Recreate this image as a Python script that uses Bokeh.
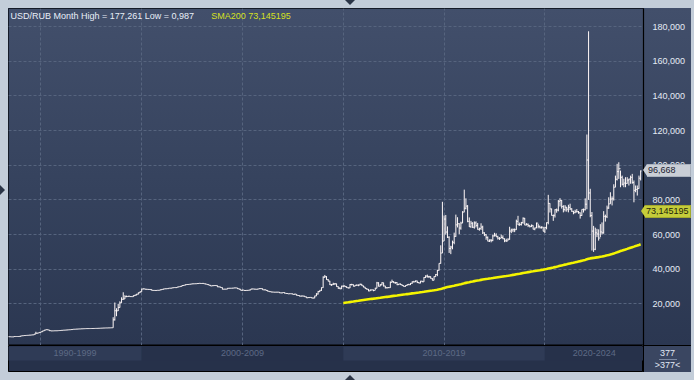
import numpy as np
from bokeh.plotting import figure
from bokeh.models import Range1d, FixedTicker, Label, Div, ColumnDataSource
from bokeh.layouts import column, row
from bokeh.embed import file_html
from bokeh.resources import INLINE
from bokeh.core.properties import value

# ---------------- data (USD/RUB monthly bars, Jun 1993 .. Oct 2024) ----------------
symbol = "USD/RUB"
start_year, start_month = 1993, 6
first_open = 1.08

closes = [
    1.060, 0.990, 0.992, 1.169, 1.184, 1.194, 1.247,                         # 1993 Jun-Dec
    1.542, 1.669, 1.753, 1.820, 1.892, 1.989, 2.060, 2.153, 2.596, 3.055, 3.232, 3.550,  # 1994
    3.947, 4.437, 4.897, 5.130, 4.995, 4.538, 4.415, 4.447, 4.508, 4.504, 4.580, 4.640,  # 1995
    4.73, 4.82, 4.88, 4.95, 5.04, 5.11, 5.20, 5.35, 5.40, 5.47, 5.52, 5.56,  # 1996
    5.63, 5.68, 5.73, 5.76, 5.77, 5.78, 5.80, 5.82, 5.86, 5.88, 5.92, 5.96,  # 1997
    6.03, 6.07, 6.11, 6.13, 6.16, 6.20, 6.24, 10.80, 16.07, 16.01, 17.88, 20.65,  # 1998
    22.60, 22.86, 24.18, 24.23, 24.44, 24.22, 24.19, 24.75, 25.08, 25.60, 26.42, 27.00,  # 1999
    28.55, 28.66, 28.46, 28.40, 28.33, 28.24, 27.79, 27.77, 27.75, 27.83, 27.87, 28.16,  # 2000
    28.37, 28.65, 28.72, 28.80, 29.04, 29.07, 29.26, 29.41, 29.39, 29.70, 29.92, 30.14,  # 2001
    30.61, 30.78, 31.12, 31.20, 31.29, 31.45, 31.57, 31.61, 31.64, 31.74, 31.86, 31.78,  # 2002
    31.82, 31.62, 31.38, 31.14, 30.74, 30.35, 30.52, 30.58, 30.61, 29.86, 29.79, 29.45,  # 2003
    28.49, 28.52, 28.51, 28.99, 29.03, 29.03, 29.11, 29.23, 29.21, 28.77, 28.44, 27.75,  # 2004
    27.98, 27.73, 27.79, 27.83, 28.01, 28.61, 28.61, 28.50, 28.44, 28.61, 28.81, 28.78,  # 2005
    28.13, 28.14, 27.76, 27.26, 27.05, 26.85, 26.79, 26.75, 26.78, 26.76, 26.39, 26.33,  # 2006
    26.56, 26.16, 26.01, 25.81, 25.88, 25.82, 25.48, 25.65, 24.99, 24.84, 24.46, 24.55,  # 2007
    24.48, 24.12, 23.52, 23.63, 23.75, 23.42, 23.41, 24.59, 25.72, 27.08, 27.83, 29.38,  # 2008
    35.40, 35.72, 34.01, 33.12, 31.04, 31.07, 31.47, 31.60, 30.01, 29.05, 28.71, 30.24,  # 2009
    30.40, 29.95, 29.36, 29.22, 31.19, 31.19, 30.18, 30.73, 30.79, 30.87, 31.32, 30.48,  # 2010
    29.69, 28.83, 28.46, 27.48, 28.02, 28.08, 27.72, 29.02, 32.12, 30.18, 31.03, 32.20,  # 2011
    30.36, 29.33, 29.33, 29.37, 32.46, 32.82, 32.19, 32.31, 31.09, 31.48, 31.09, 30.55,  # 2012
    30.02, 30.61, 31.07, 31.07, 31.85, 32.71, 32.73, 33.25, 32.37, 32.05, 33.11, 32.73,  # 2013
    35.24, 36.05, 35.69, 35.70, 34.73, 33.63, 35.73, 36.93, 39.38, 43.39, 49.32, 56.26,  # 2014
    68.93, 61.45, 58.46, 51.97, 52.81, 55.52, 58.99, 65.60, 66.24, 63.76, 66.61, 72.93,  # 2015
    75.19, 76.40, 67.60, 64.50, 66.56, 64.20, 66.70, 65.30, 63.00, 63.40, 64.30, 61.00,  # 2016
    59.90, 58.40, 56.20, 56.80, 56.50, 59.20, 59.60, 58.70, 57.90, 57.80, 58.30, 57.60,  # 2017
    56.40, 56.30, 57.30, 62.00, 62.60, 62.80, 62.80, 67.60, 65.60, 65.80, 66.90, 69.40,  # 2018
    65.50, 65.90, 65.30, 64.60, 65.30, 63.10, 63.80, 66.60, 64.80, 63.90, 64.30, 61.90,  # 2019
    64.00, 66.90, 78.00, 74.80, 71.00, 71.10, 74.30, 74.10, 79.20, 79.60, 76.20, 74.40,  # 2020
    75.80, 74.60, 75.70, 74.80, 73.40, 72.60, 73.10, 73.20, 72.60, 71.00, 74.50, 74.30,  # 2021
    77.50, 103.00, 84.00, 71.00, 62.00, 51.50, 61.00, 60.30, 58.00, 61.50, 61.00, 70.50,  # 2022
    70.30, 75.30, 77.70, 80.50, 80.60, 87.30, 91.90, 96.30, 98.00, 93.00, 89.00, 89.70,  # 2023
    89.50, 91.40, 92.00, 93.00, 90.00, 85.50, 86.00, 86.50, 92.50, 96.668,   # 2024 Jan-Oct
]

highs = [
    1.100, 1.070, 0.996, 1.175, 1.192, 1.205, 1.252,
    1.607, 1.672, 1.755, 1.825, 1.895, 1.992, 2.065, 2.160, 2.600, 3.926, 3.240, 3.552,
    3.950, 4.440, 4.900, 5.130, 5.130, 4.990, 4.540, 4.450, 4.510, 4.510, 4.582, 4.642,
    4.74, 4.83, 4.89, 4.96, 5.05, 5.12, 5.21, 5.36, 5.41, 5.48, 5.53, 5.57,
    5.64, 5.69, 5.74, 5.77, 5.79, 5.80, 5.81, 5.83, 5.87, 5.89, 5.93, 5.97,
    6.04, 6.08, 6.12, 6.14, 6.17, 6.21, 6.25, 12.30, 20.80, 17.50, 20.00, 21.50,
    23.80, 26.70, 25.00, 24.80, 24.60, 24.50, 24.30, 24.90, 25.30, 25.80, 26.60, 27.20,
    28.80, 28.90, 28.70, 28.60, 28.50, 28.40, 28.30, 27.90, 27.85, 27.90, 27.95, 28.20,
    28.50, 28.70, 28.80, 28.85, 29.10, 29.15, 29.30, 29.45, 29.45, 29.75, 29.95, 30.20,
    30.70, 30.85, 31.15, 31.25, 31.33, 31.47, 31.60, 31.65, 31.70, 31.80, 31.90, 31.90,
    31.90, 31.85, 31.65, 31.40, 31.15, 30.75, 30.55, 30.65, 30.70, 30.65, 29.95, 29.80,
    29.50, 28.60, 28.60, 29.00, 29.10, 29.05, 29.20, 29.25, 29.25, 29.20, 28.80, 28.45,
    28.20, 28.00, 27.95, 27.95, 28.10, 28.65, 28.70, 28.65, 28.60, 28.65, 28.95, 28.90,
    28.80, 28.20, 28.20, 27.80, 27.30, 27.10, 26.90, 26.85, 26.85, 26.85, 26.80, 26.45,
    26.60, 26.60, 26.20, 26.05, 25.95, 25.90, 25.85, 25.80, 25.70, 25.00, 24.85, 24.70,
    24.70, 24.60, 24.20, 23.80, 23.90, 23.80, 23.50, 24.70, 26.20, 27.50, 27.90, 29.50,
    35.90, 36.70, 36.00, 34.30, 33.30, 31.50, 32.20, 32.00, 31.70, 30.10, 29.60, 30.50,
    30.60, 30.50, 30.10, 29.50, 31.50, 31.60, 31.20, 30.80, 31.20, 31.20, 31.70, 31.50,
    30.50, 29.80, 28.90, 28.60, 28.30, 28.20, 28.20, 29.30, 32.70, 32.50, 31.40, 32.50,
    32.20, 30.40, 29.60, 29.70, 32.90, 34.00, 33.10, 32.70, 32.50, 31.60, 31.80, 31.20,
    30.60, 30.70, 31.30, 31.60, 32.00, 33.00, 33.30, 33.50, 33.40, 32.40, 33.30, 33.30,
    35.40, 36.50, 36.90, 36.20, 35.90, 34.90, 35.90, 37.20, 39.60, 43.40, 53.80, 78.90,
    71.00, 71.30, 64.70, 59.00, 53.50, 56.50, 61.10, 71.50, 70.00, 66.60, 67.40, 73.50,
    85.90, 80.90, 77.00, 69.90, 67.90, 67.10, 67.60, 67.60, 66.70, 64.00, 66.50, 65.10,
    61.30, 60.30, 58.90, 57.20, 57.40, 60.00, 61.00, 60.70, 59.30, 58.50, 60.00, 59.50,
    57.80, 57.60, 57.80, 64.50, 63.40, 63.50, 63.50, 68.60, 70.80, 66.90, 67.30, 69.90,
    69.60, 66.60, 66.40, 65.40, 65.80, 65.30, 64.00, 66.90, 66.20, 65.10, 64.70, 64.40,
    64.50, 67.00, 82.90, 78.10, 75.00, 71.50, 74.60, 75.00, 79.90, 81.00, 80.00, 76.90,
    77.00, 75.90, 77.20, 77.80, 75.20, 73.70, 74.30, 74.70, 73.60, 72.80, 74.50, 75.00,
    80.90, 117.70, 177.261, 86.40, 73.00, 65.00, 64.00, 63.30, 63.00, 66.00, 67.00, 73.50,
    71.50, 76.70, 81.50, 84.40, 82.00, 89.00, 94.00, 100.80, 101.70, 96.90, 94.00, 92.20,
    93.10, 93.10, 92.20, 94.00, 95.00, 91.20, 88.30, 88.30, 94.00, 97.00,
]

lows = [
    1.020, 0.987, 0.988, 0.990, 1.160, 1.180, 1.192,
    1.247, 1.540, 1.665, 1.750, 1.818, 1.890, 1.985, 2.058, 2.153, 2.590, 3.010, 3.230,
    3.550, 3.945, 4.435, 4.895, 4.930, 4.520, 4.410, 4.380, 4.440, 4.490, 4.500, 4.578,
    4.63, 4.72, 4.81, 4.87, 4.94, 5.03, 5.10, 5.19, 5.34, 5.39, 5.46, 5.51,
    5.55, 5.62, 5.67, 5.72, 5.75, 5.76, 5.77, 5.79, 5.81, 5.85, 5.87, 5.91,
    5.96, 6.02, 6.07, 6.10, 6.13, 6.16, 6.20, 6.24, 10.40, 12.90, 15.90, 17.85,
    20.60, 22.40, 22.80, 23.90, 24.10, 24.10, 24.10, 24.10, 24.60, 25.00, 25.50, 26.30,
    27.00, 28.50, 28.40, 28.30, 28.20, 28.10, 27.70, 27.70, 27.60, 27.70, 27.80, 27.85,
    28.10, 28.35, 28.60, 28.70, 28.80, 29.00, 29.05, 29.25, 29.30, 29.35, 29.70, 29.90,
    30.10, 30.50, 30.75, 31.10, 31.18, 31.27, 31.40, 31.50, 31.55, 31.60, 31.70, 31.70,
    31.70, 31.60, 31.35, 31.10, 30.70, 30.30, 30.30, 30.40, 30.45, 29.80, 29.70, 29.40,
    28.40, 28.45, 28.45, 28.50, 28.90, 28.95, 29.00, 29.10, 29.15, 28.70, 28.40, 27.70,
    27.70, 27.70, 27.50, 27.70, 27.80, 28.00, 28.50, 28.40, 28.40, 28.40, 28.60, 28.65,
    28.10, 27.90, 27.70, 27.20, 27.00, 26.80, 26.75, 26.70, 26.70, 26.70, 26.35, 26.20,
    26.30, 26.10, 26.00, 25.80, 25.75, 25.80, 25.40, 25.40, 24.95, 24.70, 24.30, 24.30,
    24.40, 24.10, 23.50, 23.40, 23.50, 23.40, 23.10, 23.30, 24.50, 25.40, 26.80, 27.50,
    29.30, 35.10, 33.90, 33.00, 30.90, 30.40, 30.90, 31.10, 29.90, 28.70, 28.50, 28.60,
    29.60, 29.70, 29.20, 28.90, 29.10, 30.60, 30.10, 30.10, 30.50, 30.20, 30.80, 30.40,
    29.60, 28.80, 28.20, 27.30, 27.40, 27.90, 27.30, 27.90, 29.00, 30.00, 30.20, 30.70,
    30.00, 28.90, 28.90, 29.20, 29.30, 32.30, 32.00, 31.60, 30.80, 30.90, 31.00, 30.40,
    29.90, 29.90, 30.50, 30.90, 30.90, 31.60, 32.40, 32.60, 32.00, 31.80, 31.90, 32.60,
    32.70, 34.90, 35.20, 34.90, 34.60, 33.60, 33.60, 35.60, 36.00, 39.20, 43.20, 49.30,
    56.20, 60.00, 58.00, 49.40, 48.70, 51.50, 54.40, 58.70, 64.10, 60.20, 62.80, 66.60,
    72.90, 74.50, 67.10, 64.40, 63.90, 63.80, 63.40, 64.10, 62.80, 62.20, 62.70, 60.30,
    59.10, 57.00, 56.10, 55.70, 55.50, 56.20, 58.90, 58.60, 57.10, 56.90, 57.90, 57.30,
    55.60, 55.80, 56.40, 57.00, 60.80, 61.40, 61.40, 62.70, 65.50, 65.00, 65.20, 66.20,
    65.40, 65.30, 64.30, 64.10, 64.30, 63.00, 62.50, 63.70, 63.60, 63.60, 63.50, 61.90,
    60.90, 63.00, 65.90, 72.70, 71.00, 67.90, 69.80, 72.60, 73.40, 76.20, 75.00, 72.80,
    73.30, 73.20, 72.80, 74.10, 73.10, 71.70, 72.30, 72.80, 72.00, 69.20, 70.80, 72.70,
    73.90, 74.60, 80.00, 70.00, 50.80, 50.00, 51.00, 58.50, 56.50, 58.50, 60.00, 60.50,
    67.50, 69.50, 74.80, 77.70, 76.80, 79.60, 87.30, 91.20, 92.10, 87.30, 88.30, 87.30,
    87.30, 89.30, 88.30, 89.30, 89.30, 78.60, 84.40, 82.50, 86.40, 91.20,
]

sma_period = 200
sma_label_value = 73.145195

y_ticks = [20, 40, 60, 80, 100, 120, 140, 160, 180]
y_tick_labels = ["20,000", "40,000", "60,000", "80,000", "100,000",
                 "120,000", "140,000", "160,000", "180,000"]
grid_years = [1995, 2000, 2005, 2010, 2015, 2020]
period_labels = ["1990-1999", "2000-2009", "2010-2019", "2020-2024"]
period_first_years = [1990, 2000, 2010, 2020]
period_end_years = [2000, 2010, 2020, 2025]

# ---------------- derived ----------------
n = len(closes)
idx = np.arange(n)
opens = [first_open] + closes[:-1]
sma = np.convolve(np.array(closes), np.ones(sma_period) / sma_period, mode="valid")
sma_x = idx[sma_period - 1:]


def month_index(year):
    return (year - start_year) * 12 - (start_month - 1)


def fmt(v, d=3):
    return f"{v:.{d}f}".replace(".", ",")


FONT = "Liberation Sans"
PAGE = 8
W_MAIN, H_MAIN, W_AXIS, H_STRIP = 683, 337, 48, 27
X0, X1 = -0.3, 377.7
Y0, Y1 = -4.0, 190.4
xr = Range1d(X0, X1)
yr = Range1d(Y0, Y1)

p = figure(width=W_MAIN, height=H_MAIN, x_range=xr, y_range=yr,
           output_backend="svg", toolbar_location=None,
           x_axis_location=None, y_axis_location="right",
           min_border_left=0, min_border_top=0, min_border_bottom=0, min_border_right=W_AXIS,
           background_fill_color=None, border_fill_color=None,
           styles={"background": "linear-gradient(180deg, #424f6b 0%, #36435e 50%, #2b3751 100%)"})
p.outline_line_color = "#151b28"
p.outline_line_width = 1

# grid
for g in p.ygrid:
    g.ticker = FixedTicker(ticks=y_ticks)
    g.grid_line_color = "#56647e"
    g.grid_line_dash = "3 2"
    g.grid_line_width = 1
for g in p.xgrid:
    g.ticker = FixedTicker(ticks=[month_index(y) for y in grid_years])
    g.grid_line_color = "#56647e"
    g.grid_line_dash = "3 2"
    g.grid_line_width = 1

ax = p.yaxis[0]
ax.ticker = FixedTicker(ticks=y_ticks)
ax.major_label_overrides = {t: l for t, l in zip(y_ticks, y_tick_labels)}
ax.major_tick_line_color = None
ax.minor_tick_line_color = None
ax.axis_line_color = "#000000"
ax.axis_line_width = 1.2
ax.major_label_standoff = 3
ax.major_label_text_font = FONT
ax.major_label_text_font_size = "9px"
ax.major_label_text_color = "#e4ebf5"

# OHLC bars
src = ColumnDataSource(dict(x=idx, o=opens, h=highs, l=lows, c=closes,
                            xl=idx - 0.5, xr=idx + 0.5))
p.segment(x0="x", y0="l", x1="x", y1="h", source=src, line_color="#fff8f8", line_width=1)
p.segment(x0="xl", y0="o", x1="x", y1="o", source=src, line_color="#fff8f8", line_width=1)
p.segment(x0="x", y0="c", x1="xr", y1="c", source=src, line_color="#fff8f8", line_width=1)

# SMA
p.line(sma_x, sma, line_color="#f4f400", line_width=2.6)

# header texts
title_txt = f"{symbol} Month High = {fmt(max(highs))} Low = {fmt(min(lows))}"
p.add_layout(Label(x=2, y=H_MAIN - 7, x_units="screen", y_units="screen", text=title_txt,
                   text_font=FONT, text_font_size="9px", text_color="#e8eef8",
                   text_baseline="middle"))
p.add_layout(Label(x=202.7, y=H_MAIN - 7, x_units="screen", y_units="screen",
                   text=f"SMA{sma_period} {fmt(sma_label_value, 6)}",
                   text_font=FONT, text_font_size="9px", text_color="#d6e022",
                   text_baseline="middle"))

# ---------------- bottom period strip ----------------
s = figure(width=W_MAIN - W_AXIS, height=H_STRIP, x_range=xr, y_range=Range1d(0, H_STRIP),
           output_backend="svg", toolbar_location=None,
           x_axis_location=None, y_axis_location=None,
           min_border_left=0, min_border_top=0, min_border_bottom=0, min_border_right=0,
           background_fill_color="#26314a", border_fill_color="#26314a")
s.grid.visible = False
s.outline_line_color = "#000000"
s.outline_line_width = 1

lefts = [month_index(y) for y in period_first_years]
rights = [month_index(y) for y in period_end_years]
shades = ["#2f3b56", "#26314a", "#2f3b56", "#26314a"]
centers = [(max(a, X0) + min(b, X1)) / 2 for a, b in zip(lefts, rights)]
s.quad(left=lefts, right=rights, bottom=[12] * 4, top=[26] * 4, fill_color=shades, line_color=None)
s.text(x=centers, y=[19.5] * 4, text=period_labels, text_font=value(FONT),
       text_font_size="9px", text_color="#5d6a85", text_align="center", text_baseline="middle")

count_div = Div(
    text=(f'<div style="line-height:11px;margin-top:2px;">{n}</div>'
          '<div style="width:18px;margin:0 auto;border-top:1px solid #7d8aa2;"></div>'
          f'<div style="line-height:11px;">&gt;{n}&lt;</div>'),
    width=W_AXIS, height=H_STRIP, margin=0,
    styles={"background-color": "#3a4661", "color": "#e2e9f4",
            "font-family": "'Liberation Sans', Arial, sans-serif", "font-size": "9px",
            "text-align": "center", "box-sizing": "border-box",
            "border-left": "1px solid #000", "border-top": "1px solid #000"})

layout = column(p, row(s, count_div, spacing=0), spacing=0, margin=(PAGE, 0, 0, PAGE))

# ---------------- value tags on the price axis (HTML overlays) ----------------
def y_px(v):
    return PAGE + (Y1 - v) * H_MAIN / (Y1 - Y0)


axis_left = PAGE + W_MAIN - W_AXIS


def tag_html(text, v, bg, fg, border, box_left, box_width):
    top = y_px(v) - 6.5
    return (
        f'<div style="position:absolute;left:{box_left - 4}px;top:{top:.1f}px;width:0;height:0;'
        f'border-top:6.5px solid transparent;border-bottom:6.5px solid transparent;'
        f'border-right:4px solid {bg};z-index:10;"></div>'
        f'<div style="position:absolute;left:{box_left}px;top:{top:.1f}px;width:{box_width}px;'
        f'height:13px;box-sizing:border-box;background:{bg};color:{fg};border:1px solid {border};'
        f'border-left:none;font:9px \'Liberation Sans\',Arial,sans-serif;line-height:11px;'
        f'padding-left:1px;white-space:nowrap;overflow:hidden;z-index:10;">{text}</div>'
    )


tags = (tag_html(fmt(closes[-1]), closes[-1], "#c9ced6", "#1b2130", "#aab2be", axis_left + 4, 44)
        + tag_html(fmt(sma_label_value, 6), sma_label_value, "#c4cc3a", "#22250b", "#a3aa2c",
                   axis_left + 2, 46))

deco = (
    '<div style="position:absolute;left:345px;top:0;width:0;height:0;border-left:5px solid transparent;'
    'border-right:5px solid transparent;border-top:5px solid #2b3547;"></div>'
    '<div style="position:absolute;left:345px;top:375px;width:0;height:0;border-left:5px solid transparent;'
    'border-right:5px solid transparent;border-bottom:5px solid #2b3547;"></div>'
    '<div style="position:absolute;left:0;top:185px;width:0;height:0;border-top:5px solid transparent;'
    'border-bottom:5px solid transparent;border-left:5px solid #2b3547;"></div>'
)

html = file_html(layout, INLINE, title="USD/RUB")
html = html.replace("</head>",
                    "<style>html, body { background: #c3cdd9 !important; margin: 0 !important; "
                    "padding: 0 !important; overflow: hidden; }</style></head>", 1)
html = html.replace("</body>", tags + deco + "</body>", 1)
open("out.html", "w").write(html)
